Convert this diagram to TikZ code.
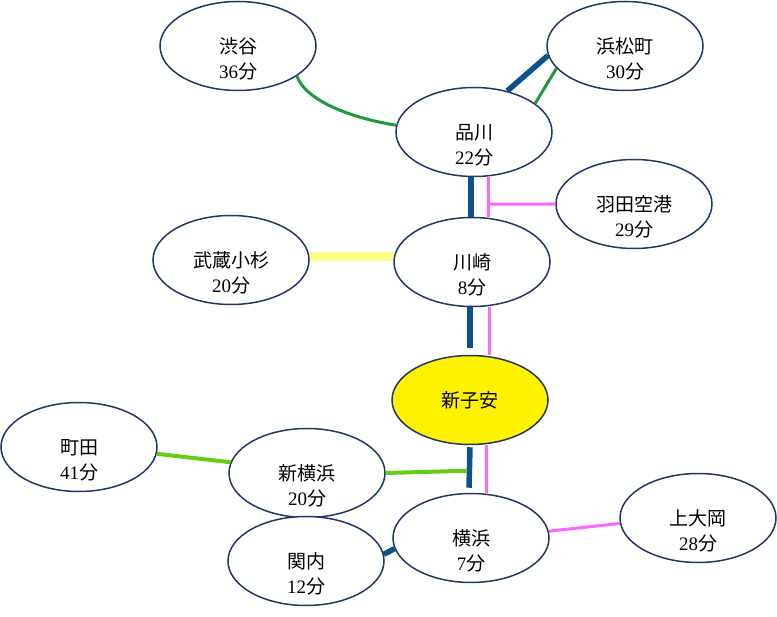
\documentclass[tikz,border=0pt]{standalone}
\usepackage{fontspec}
\setmainfont{Liberation Serif}
\newfontfamily\jp{Noto Sans CJK JP}
\usetikzlibrary{shapes.geometric}

\definecolor{navy}{RGB}{31,56,100}
\definecolor{jrblue}{RGB}{14,80,140}
\definecolor{kqpink}{RGB}{255,102,255}
\definecolor{dkgreen}{RGB}{30,154,60}
\definecolor{lime}{RGB}{102,204,17}
\definecolor{paleyellow}{RGB}{255,255,136}

% station name over minutes
\newcommand{\stn}[2]{\begin{tabular}[t]{@{}c@{}}#1\\{\rmfamily #2}分\end{tabular}}

\begin{document}
\begin{tikzpicture}[x=1pt,y=-1pt,thick,
  ell/.style={ellipse,draw=navy,line width=1.5pt,minimum width=156pt,minimum height=89pt,
    inner sep=0pt,font=\jp\fontsize{19}{25}\selectfont},
  station/.style={ell,fill=white,text height=14.4pt,text depth=0pt},
  home/.style={ell,fill=yellow},
  blueline/.style={draw=jrblue,line width=5.5pt},
  pinkline/.style={draw=kqpink,line width=3pt},
  greenline/.style={draw=dkgreen,line width=3pt},
  limeline/.style={draw=lime,line width=4pt},
  yellowline/.style={draw=paleyellow,line width=9pt}]
  \useasboundingbox (0,0) rectangle (777,617);

  \node[station] (shibuya)       at (238,46)  {\stn{渋谷}{36}};
  \node[station] (hamamatsucho)  at (625,46)  {\stn{浜松町}{30}};
  \node[station] (shinagawa)     at (474,132) {\stn{品川}{22}};
  \node[station] (haneda)        at (634,204) {\stn{羽田空港}{29}};
  \node[station] (musashikosugi) at (231,260) {\stn{武蔵小杉}{20}};
  \node[station] (kawasaki)      at (472,262) {\stn{川崎}{8}};
  \node[home]    (shinkoyasu)    at (470,400) {新子安};
  \node[station] (machida)       at (79,447)  {\stn{町田}{41}};
  \node[station] (shinyokohama)  at (307,473) {\stn{新横浜}{20}};
  \node[station] (kamiooka)      at (698,518) {\stn{上大岡}{28}};
  \node[station] (yokohama)      at (471,538) {\stn{横浜}{7}};
  \node[station] (kannai)        at (306,561) {\stn{関内}{12}};

  \draw[greenline] (shibuya.-27) .. controls (305,100) and (350,118) .. (shinagawa.175);
  \draw[blueline] (shinagawa.51) -- (hamamatsucho.187);
  \draw[greenline] (shinagawa.25) -- (hamamatsucho.198);
  \draw[blueline] ([xshift=-3pt]shinagawa.south) -- ([xshift=-1pt]kawasaki.north);
  \draw[pinkline] ([xshift=14pt]shinagawa.south) -- coordinate[pos=0.68] (hanedajct)
    ([xshift=16pt]kawasaki.north);
  \draw[pinkline] (hanedajct) -- (haneda.west);
  \draw[yellowline] ([yshift=3pt]musashikosugi.east) -- ([yshift=5pt]kawasaki.west);
  \draw[blueline] ([xshift=-2pt]kawasaki.south) -- ([yshift=7pt]shinkoyasu.north);
  \draw[pinkline] ([xshift=17pt]kawasaki.south) -- ([xshift=19pt]shinkoyasu.north);
  \draw[limeline] (machida.-5) -- (shinyokohama.172);
  \draw[blueline] ([yshift=-2pt]shinkoyasu.south) -- coordinate[pos=0.58] (shinyokojct)
    ([xshift=-2pt,yshift=5pt]yokohama.north);
  \draw[limeline] (shinyokohama.east) -- ([xshift=-2.75pt]shinyokojct);
  \draw[pinkline] ([xshift=16pt]shinkoyasu.south) -- ([xshift=15pt]yokohama.north);
  \draw[blueline] (kannai.5) -- (yokohama.188);
  \draw[pinkline] (yokohama.5) -- (kamiooka.184);
\end{tikzpicture}
\end{document}
